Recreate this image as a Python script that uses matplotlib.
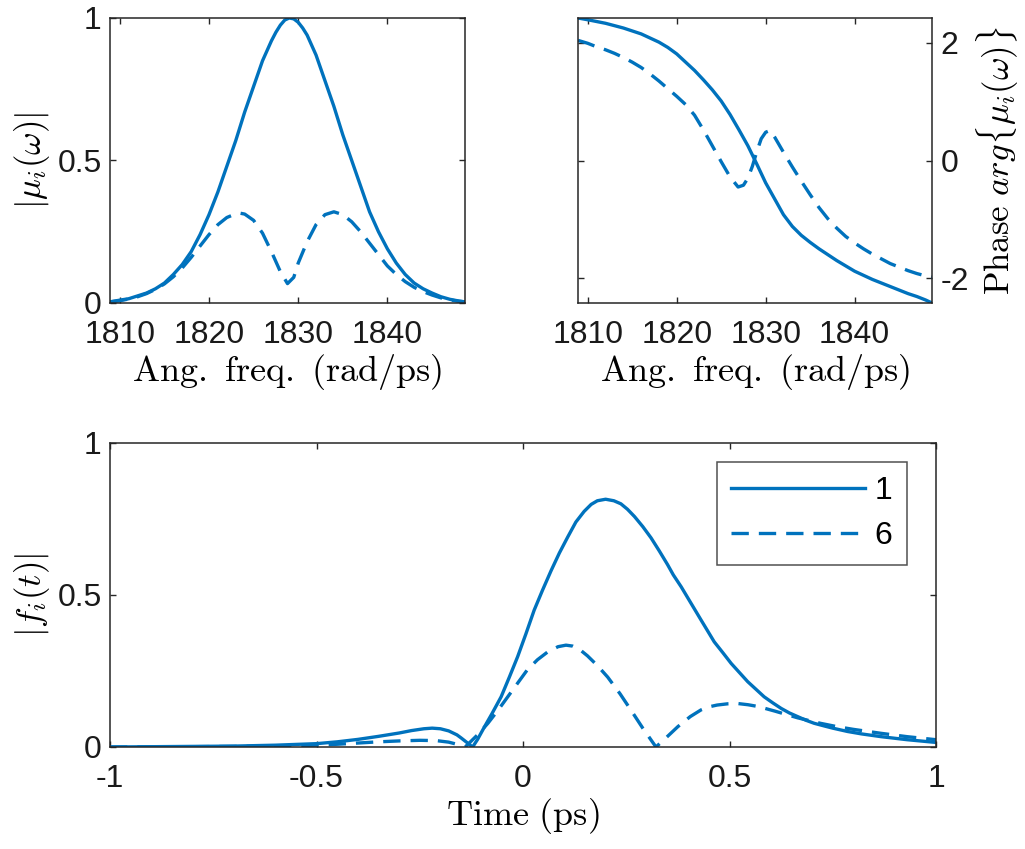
import matplotlib
matplotlib.use('Agg')
import matplotlib.pyplot as plt

plt.rcParams['font.family'] = ['Liberation Sans', 'DejaVu Sans']
plt.rcParams['mathtext.fontset'] = 'cm'
plt.rcParams['axes.unicode_minus'] = False

BLUE = '#0072BD'
AXC = '#262626'

# spectral amplitude |mu_i(omega)|
freq_mag = [1808.9, 1810, 1811, 1812, 1813, 1814, 1815, 1816, 1817, 1818, 1819, 1820,
            1821, 1822, 1823, 1824, 1825, 1826, 1827, 1827.5, 1828, 1828.5, 1829, 1829.5,
            1830, 1830.5, 1831, 1832, 1833, 1834, 1835, 1836, 1837, 1838, 1839, 1840,
            1841, 1842, 1843, 1844, 1845, 1846, 1847, 1848, 1848.7]
mag_1 = [0.004, 0.01, 0.015, 0.025, 0.035, 0.05, 0.07, 0.1, 0.135, 0.18, 0.24, 0.31,
         0.39, 0.48, 0.57, 0.67, 0.76, 0.85, 0.92, 0.95, 0.975, 0.993, 1.0, 0.997,
         0.985, 0.965, 0.94, 0.87, 0.78, 0.69, 0.59, 0.5, 0.41, 0.32, 0.25, 0.19,
         0.14, 0.1, 0.07, 0.05, 0.035, 0.022, 0.013, 0.007, 0.004]
freq_mag6 = [1808.9, 1810, 1811, 1812, 1813, 1814, 1815, 1816, 1817, 1818, 1819, 1820,
             1821, 1822, 1823, 1823.5, 1824, 1825, 1826, 1827, 1828, 1828.8, 1829.5, 1830,
             1831, 1832, 1833, 1834, 1835, 1836, 1837, 1838, 1839, 1840, 1841, 1842,
             1843, 1844, 1845, 1846, 1847, 1848, 1848.7]
mag_6 = [0.004, 0.008, 0.014, 0.022, 0.033, 0.048, 0.067, 0.092, 0.123, 0.16, 0.2, 0.24,
         0.275, 0.3, 0.313, 0.315, 0.312, 0.29, 0.245, 0.18, 0.11, 0.068, 0.09, 0.14,
         0.215, 0.275, 0.31, 0.32, 0.31, 0.285, 0.25, 0.21, 0.17, 0.13, 0.1, 0.075,
         0.055, 0.04, 0.028, 0.018, 0.011, 0.006, 0.004]

# spectral phase arg{mu_i(omega)}
freq_ph1 = [1808.9, 1810, 1811, 1812, 1813, 1814, 1815, 1816, 1817, 1818, 1819, 1820,
            1821, 1822, 1823, 1824, 1825, 1826, 1827, 1828, 1829, 1830, 1831, 1832,
            1833, 1834, 1835, 1836, 1837, 1838, 1839, 1840, 1841, 1842, 1843, 1844,
            1845, 1846, 1847, 1848, 1848.7]
phase_1 = [2.42, 2.39, 2.36, 2.33, 2.29, 2.25, 2.2, 2.15, 2.08, 2.01, 1.92, 1.81,
           1.67, 1.53, 1.37, 1.2, 1.01, 0.78, 0.52, 0.25, -0.06, -0.38, -0.65, -0.92,
           -1.12, -1.27, -1.39, -1.5, -1.6, -1.7, -1.79, -1.88, -1.95, -2.02, -2.08, -2.14,
           -2.2, -2.26, -2.31, -2.37, -2.42]
freq_ph6 = [1808.9, 1810, 1811, 1812, 1813, 1814, 1815, 1816, 1817, 1818, 1819, 1820,
            1821, 1822, 1823, 1824, 1825, 1826, 1826.9, 1827.5, 1828, 1828.5, 1829, 1829.5,
            1830, 1830.5, 1831, 1832, 1833, 1834, 1835, 1836, 1837, 1838, 1839, 1840,
            1841, 1842, 1843, 1844, 1845, 1846, 1847, 1848, 1848.7]
phase_6 = [2.04, 1.99, 1.93, 1.88, 1.82, 1.75, 1.67, 1.58, 1.47, 1.35, 1.22, 1.09,
           0.95, 0.77, 0.52, 0.25, -0.02, -0.28, -0.45, -0.42, -0.3, -0.1, 0.15, 0.37,
           0.48, 0.51, 0.4, 0.14, -0.11, -0.35, -0.58, -0.8, -0.99, -1.15, -1.29, -1.4,
           -1.5, -1.59, -1.67, -1.75, -1.81, -1.87, -1.92, -1.96, -1.98]

# temporal amplitude |f_i(t)|
time_1 = [-1.0, -0.9, -0.8, -0.7, -0.6, -0.5, -0.45, -0.4, -0.35, -0.3, -0.27, -0.24,
          -0.22, -0.2, -0.18, -0.16, -0.15, -0.135, -0.122, -0.11, -0.093, -0.075, -0.053,
          -0.033, -0.013, 0.007, 0.027, 0.047, 0.068, 0.088, 0.108, 0.128, 0.148, 0.165,
          0.18, 0.2, 0.22, 0.237, 0.253, 0.27, 0.29, 0.31, 0.33, 0.35, 0.364, 0.383,
          0.405, 0.431, 0.447, 0.463, 0.484, 0.504, 0.524, 0.544, 0.564, 0.584, 0.605,
          0.625, 0.645, 0.665, 0.685, 0.705, 0.73, 0.75, 0.786, 0.82, 0.867, 0.93, 1.0]
amp_1 = [0.0, 0.001, 0.002, 0.003, 0.006, 0.011, 0.017, 0.025, 0.035, 0.046, 0.054, 0.06,
         0.062, 0.06, 0.053, 0.04, 0.03, 0.014, 0.0, 0.025, 0.067, 0.11, 0.165,
         0.23, 0.297, 0.372, 0.45, 0.515, 0.58, 0.638, 0.69, 0.74, 0.775, 0.798,
         0.81, 0.815, 0.81, 0.8, 0.782, 0.758, 0.725, 0.688, 0.645, 0.6, 0.566, 0.527,
         0.477, 0.418, 0.382, 0.346, 0.31, 0.275, 0.245, 0.215, 0.19, 0.165, 0.145,
         0.127, 0.112, 0.1, 0.088, 0.078, 0.069, 0.062, 0.051, 0.043, 0.034, 0.024, 0.015]
time_6 = [-1.0, -0.8, -0.6, -0.5, -0.45, -0.4, -0.35, -0.3, -0.25, -0.21, -0.18, -0.16,
          -0.14, -0.11, -0.085, -0.06, -0.037, -0.013, 0.01, 0.035, 0.06, 0.085, 0.104,
          0.12, 0.138, 0.156, 0.18, 0.205, 0.235, 0.262, 0.29, 0.322, 0.35, 0.375, 0.405,
          0.431, 0.45, 0.47, 0.495, 0.52, 0.545, 0.57, 0.61, 0.665, 0.72, 0.76, 0.8,
          0.867, 0.93, 1.0]
amp_6 = [0.0, 0.001, 0.003, 0.006, 0.009, 0.013, 0.017, 0.02, 0.022, 0.021, 0.016, 0.009,
         0.0, 0.04, 0.078, 0.122, 0.165, 0.21, 0.253, 0.287, 0.313, 0.33, 0.335,
         0.332, 0.32, 0.3, 0.268, 0.23, 0.175, 0.12, 0.062, 0.0, 0.035, 0.067, 0.1,
         0.122, 0.132, 0.138, 0.142, 0.143, 0.139, 0.133, 0.118, 0.096, 0.078, 0.067, 0.058,
         0.045, 0.034, 0.024]

legend_labels = ['1', '6']

W, H = 1025, 849
fig = plt.figure(figsize=(W / 100, H / 100), dpi=100, facecolor='white')


def px_axes(x0, x1, y0, y1):
    return fig.add_axes([x0 / W, 1 - y1 / H, (x1 - x0) / W, (y1 - y0) / H])


def style(ax):
    for s in ax.spines.values():
        s.set_color(AXC)
        s.set_linewidth(1.1)
    ax.tick_params(direction='in', length=4, width=1.0, color=AXC,
                   labelsize=23, labelcolor='#1a1a1a',
                   top=True, right=True, left=True, bottom=True)
    ax.tick_params(axis='x', pad=12)
    ax.tick_params(axis='y', pad=6)


lw = 2.4
dash = (5.2, 3.0)
XFS = 26
YFS = 25

# top left: magnitude
ax1 = px_axes(110, 465, 18, 303)
ax1.plot(freq_mag, mag_1, color=BLUE, lw=lw)
ax1.plot(freq_mag6, mag_6, color=BLUE, lw=lw, dashes=dash)
ax1.set_xlim(1808.9, 1848.7)
ax1.set_ylim(0, 1)
ax1.set_xticks([1810, 1820, 1830, 1840])
ax1.set_yticks([0, 0.5, 1])
ax1.set_yticklabels(['0', '0.5', '1'])
style(ax1)
ax1.set_xlabel(r'$\mathrm{Ang.\ freq.\ (rad/ps)}$', fontsize=XFS, labelpad=2)
ax1.set_ylabel(r'$|\mu_i(\omega)|$', fontsize=YFS, labelpad=4)

# top right: phase
ax2 = px_axes(578, 932, 18, 303)
ax2.plot(freq_ph1, phase_1, color=BLUE, lw=lw)
ax2.plot(freq_ph6, phase_6, color=BLUE, lw=lw, dashes=dash)
ax2.set_xlim(1808.9, 1848.7)
ax2.set_ylim(-2.42, 2.42)
ax2.set_xticks([1810, 1820, 1830, 1840])
ax2.set_yticks([-2, 0, 2])
style(ax2)
ax2.yaxis.tick_right()
ax2.tick_params(axis='y', left=True, right=True)
ax2.yaxis.set_label_position('right')
ax2.set_xlabel(r'$\mathrm{Ang.\ freq.\ (rad/ps)}$', fontsize=XFS, labelpad=2)
ax2.set_ylabel(r'$\mathrm{Phase}\ arg\{\mu_i(\omega)\}$', fontsize=YFS, labelpad=4)

# bottom: time domain
ax3 = px_axes(110, 936, 443, 747)
ax3.plot(time_1, amp_1, color=BLUE, lw=lw, label=legend_labels[0])
ax3.plot(time_6, amp_6, color=BLUE, lw=lw, dashes=dash, label=legend_labels[1])
ax3.set_xlim(-1, 1)
ax3.set_ylim(0, 1)
ax3.set_xticks([-1, -0.5, 0, 0.5, 1])
ax3.set_xticklabels(['-1', '-0.5', '0', '0.5', '1'])
ax3.set_yticks([0, 0.5, 1])
ax3.set_yticklabels(['0', '0.5', '1'])
style(ax3)
ax3.set_xlabel(r'$\mathrm{Time\ (ps)}$', fontsize=XFS, labelpad=2)
ax3.set_ylabel(r'$|f_i(t)|$', fontsize=YFS, labelpad=4)
leg = ax3.legend(loc='upper right', bbox_to_anchor=((907 - 110) / 826, 1 - (462 - 443) / 304),
                 fontsize=23, frameon=True, fancybox=False, handlelength=4.2,
                 handletextpad=0.3, borderpad=0.45, labelspacing=0.45,
                 borderaxespad=0)
leg.get_frame().set_edgecolor(AXC)
leg.get_frame().set_linewidth(1.1)

fig.savefig('out.png', dpi=100, facecolor='white')
